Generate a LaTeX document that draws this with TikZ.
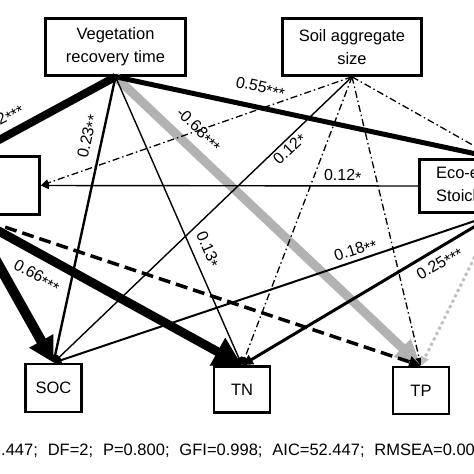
\documentclass[tikz,border=0pt]{standalone}
\usepackage{fontspec}
\setmainfont{Liberation Sans}
\usetikzlibrary{arrows.meta}
\newcommand{\sig}[1]{\raisebox{-0.3ex}{#1}}
\newcommand{\semi}{;\hspace{0.6em}}
\tikzset{
  box/.style={draw, line width=2.6pt, align=center, inner sep=0pt, font=\fontsize{16.5}{23}\selectfont},
  coef/.style={font=\fontsize{16}{19}\selectfont, sloped, inner sep=2pt},
  tip/.style={-{Triangle[length=8pt,width=7pt]}},
  dashdot/.style={line width=1.3pt, dash pattern=on 7pt off 3pt on 1.5pt off 3pt, tip},
}
\begin{document}
\begin{tikzpicture}[x=1pt, y=-1pt]
  \useasboundingbox (0,0) rectangle (474,474);
  \clip (0,0) rectangle (474,474);
  \node[box, minimum width=140pt, minimum height=57pt] (veg) at (115.5,47) {Vegetation\\recovery time};
  \node[box, minimum width=139pt, minimum height=57pt] (soil) at (352,47) {Soil aggregate\\size};
  \node[box, minimum width=137pt, minimum height=58pt] (left) at (-29,185.5) {};
  \node[box, minimum width=153pt, minimum height=53pt, text width=120pt, align=left] (eco) at (496,186) {Eco-enzymatic\\Stoichiometry};
  \node[box, minimum width=56pt, minimum height=48pt] (soc) at (53.5,388) {SOC};
  \node[box, minimum width=56pt, minimum height=46pt] (tn) at (242,389.5) {TN};
  \node[box, minimum width=56pt, minimum height=47pt] (tp) at (421,390.5) {TP};
  \node[anchor=west, inner sep=0pt, font=\fontsize{16.5}{20}\selectfont] (fit) at (1,451)
    {.447\semi DF=2\semi P=0.800\semi GFI=0.998\semi AIC=52.447\semi RMSEA=0.000};

  \draw[line width=9pt, gray!60, -{Triangle[length=26pt,width=23pt]}] (veg.south) -- (tp.north)
    node[coef, pos=0.23, above=5pt, black] {-0.68\sig{***}};
  \draw[line width=8pt, -{Triangle[length=22pt,width=22pt]}] (veg.south) -- (left.north)
    node[coef, pos=0.74, above=4pt] {0.52\sig{***}};
  \draw[line width=5pt, -{Triangle[length=16pt,width=16pt]}] (veg.south) -- (eco.north)
    node[coef, pos=0.37, above=8pt] {0.55\sig{***}};
  \draw[line width=2.4pt, tip] (veg.south) -- (soc.north)
    node[coef, pos=0.22, above=4pt] {0.23\sig{**}};
  \draw[line width=1.4pt, tip] (veg.south) -- (tn.north)
    node[coef, pos=0.62, above=5pt] {0.13\sig{*}};

  \draw[line width=1.4pt, tip] (soil.south) -- (soc.north)
    node[coef, pos=0.23, below] {0.12\sig{*}};
  \draw[dashdot] (soil.south) -- (left.east);
  \draw[dashdot] (soil.south) -- (tn.north);
  \draw[dashdot] (soil.south) -- (tp.north);
  \draw[dashdot] (soil.south) -- (eco.north);

  \draw[line width=10pt, -{Triangle[length=25pt,width=26pt]}] (left.south) -- (soc.north);
  \draw[line width=9pt, -{Triangle[length=28pt,width=30pt]}] (left.south) -- (tn.north)
    node[coef, pos=0.28, below=8pt] {0.66\sig{***}};
  \draw[line width=3.5pt, dash pattern=on 12pt off 6pt, -{Triangle[length=12pt,width=11pt]}] (left.south) -- (tp.north);

  \draw[line width=1.4pt, tip] (eco.west) -- (left.east)
    node[coef, pos=0.2, above] {0.12\sig{*}};
  \draw[line width=2pt, tip] (eco.south) -- (soc.north)
    node[coef, pos=0.31, above] {0.18\sig{**}};
  \draw[line width=3pt, -{Triangle[length=11pt,width=10pt]}] (eco.south) -- (tn.north)
    node[coef, pos=0.25, below=4pt] {0.25\sig{***}};
  \draw[line width=3pt, gray!50, dash pattern=on 3pt off 3pt, -{Triangle[length=9pt,width=8pt]}] (eco.south) -- (tp.north);
\end{tikzpicture}
\end{document}
